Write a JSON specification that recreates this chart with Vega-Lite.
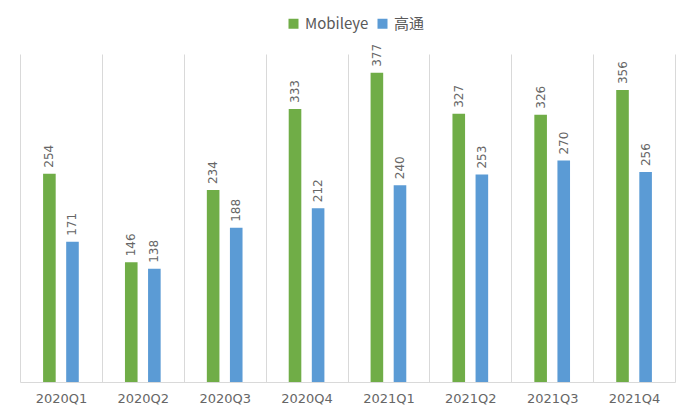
{
  "$schema": "https://vega.github.io/schema/vega-lite/v6.json",
  "width": 655,
  "height": 328,
  "autosize": {"type": "none"},
  "padding": {"left": 20, "top": 54, "right": 19, "bottom": 38},
  "background": "white",
  "config": {
    "view": {"stroke": null},
    "font": "DejaVu Sans",
    "text": {"font": "DejaVu Sans"}
  },
  "data": {
    "values": [
      {"q": "2020Q1", "s": "Mobileye", "v": 254},
      {"q": "2020Q1", "s": "高通", "v": 171},
      {"q": "2020Q2", "s": "Mobileye", "v": 146},
      {"q": "2020Q2", "s": "高通", "v": 138},
      {"q": "2020Q3", "s": "Mobileye", "v": 234},
      {"q": "2020Q3", "s": "高通", "v": 188},
      {"q": "2020Q4", "s": "Mobileye", "v": 333},
      {"q": "2020Q4", "s": "高通", "v": 212},
      {"q": "2021Q1", "s": "Mobileye", "v": 377},
      {"q": "2021Q1", "s": "高通", "v": 240},
      {"q": "2021Q2", "s": "Mobileye", "v": 327},
      {"q": "2021Q2", "s": "高通", "v": 253},
      {"q": "2021Q3", "s": "Mobileye", "v": 326},
      {"q": "2021Q3", "s": "高通", "v": 270},
      {"q": "2021Q4", "s": "Mobileye", "v": 356},
      {"q": "2021Q4", "s": "高通", "v": 256}
    ]
  },
  "encoding": {
    "x": {
      "field": "q",
      "type": "nominal",
      "sort": null,
      "scale": {"paddingInner": 0, "paddingOuter": 0},
      "axis": {
        "title": null,
        "labelAngle": 0,
        "labelFontSize": 13,
        "labelFont": "DejaVu Sans",
        "labelColor": "#666666",
        "labelPadding": 10,
        "ticks": false,
        "domainColor": "#D9D9D9",
        "grid": true,
        "gridColor": "#D9D9D9",
        "tickBand": "extent"
      }
    },
    "xOffset": {
      "field": "s",
      "type": "nominal",
      "sort": ["Mobileye", "高通"],
      "scale": {"paddingInner": 0.4545, "paddingOuter": 1.09}
    },
    "y": {
      "field": "v",
      "type": "quantitative",
      "scale": {"domain": [0, 400]},
      "axis": null
    }
  },
  "layer": [
    {
      "mark": {"type": "bar"},
      "encoding": {
        "color": {
          "field": "s",
          "type": "nominal",
          "sort": ["Mobileye", "高通"],
          "scale": {"domain": ["Mobileye", "高通"], "range": ["#70AD47", "#5B9BD5"]},
          "legend": {
            "title": null,
            "orient": "none",
            "legendX": 266,
            "legendY": -38,
            "direction": "horizontal",
            "symbolType": "square",
            "symbolSize": 100,
            "symbolStrokeWidth": 0,
            "labelFontSize": 15,
            "labelColor": "#595959",
            "labelFont": "Noto Sans CJK SC",
            "columnPadding": 6,
            "labelOffset": 4
          }
        }
      }
    },
    {
      "mark": {"type": "text", "angle": 270, "align": "left", "baseline": "middle", "dx": 6, "fontSize": 12, "font": "DejaVu Sans", "color": "#666666"},
      "encoding": {
        "text": {"field": "v", "type": "quantitative"}
      }
    }
  ]
}
